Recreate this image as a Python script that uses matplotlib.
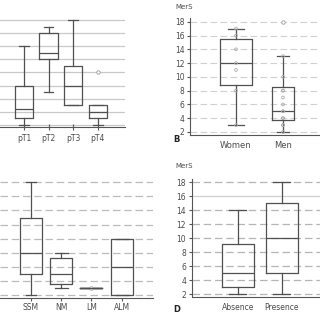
import matplotlib
matplotlib.use("Agg")
import matplotlib.pyplot as plt

# --- data (MerS) ---
a_labels = ["pT1", "pT2", "pT3", "pT4"]
a_whislo = [2, 7, 5, 2]
a_q1 = [3, 12, 5, 3]
a_med = [4.5, 13, 8, 4]
a_q3 = [8, 16, 11, 5]
a_whishi = [14, 17, 18, 5]
a_fliers = [[], [], [], [10]]

b_labels = ["Women", "Men"]
b_whislo = [3, 2]
b_q1 = [8.75, 3.75]
b_med = [12, 5]
b_q3 = [15.5, 8.5]
b_whishi = [17, 13]
b_fliers = [[], [18]]
b_points = [[17, 16, 14, 12, 11, 8, 3],
            [13, 10, 8, 8, 7, 6, 5, 5, 4, 4, 3, 3, 2]]

c_labels = ["SSM", "NM", "LM", "ALM"]
c_whislo = [2, 3, 3, 2]
c_q1 = [5, 3.5, 3, 2]
c_med = [8, 5, 3, 6]
c_q3 = [13, 7.25, 3, 10]
c_whishi = [18, 8, 3, 10]
c_fliers = [[], [], [3], []]

d_labels = ["Absence", "Presence"]
d_whislo = [2, 2]
d_q1 = [3, 5]
d_med = [5, 10]
d_q3 = [9.2, 15]
d_whishi = [14, 18]

yticks = list(range(2, 19, 2))
W = H = 320


def box_stats(labels, lo, q1, med, q3, hi, fliers=None):
    out = []
    for i, lab in enumerate(labels):
        out.append(dict(label=lab, whislo=lo[i], q1=q1[i], med=med[i], q3=q3[i],
                        whishi=hi[i], fliers=fliers[i] if fliers else []))
    return out


def px_axes(x0, y0, x1, y1):
    return fig.add_axes([x0 / W, 1 - y1 / H, (x1 - x0) / W, (y1 - y0) / H])


def draw_box(ax, stats, widths, capw, col="#505050"):
    ax.bxp(stats, positions=range(1, len(stats) + 1), widths=widths,
           capwidths=capw, showfliers=True,
           boxprops=dict(color=col, linewidth=0.9),
           medianprops=dict(color=col, linewidth=0.9),
           whiskerprops=dict(color=col, linewidth=0.9),
           capprops=dict(color=col, linewidth=0.9),
           flierprops=dict(marker="o", markersize=2.5, markerfacecolor="white",
                           markeredgecolor="#999999", markeredgewidth=0.6))


fig = plt.figure(figsize=(3.2, 3.2), dpi=100)
fig.patch.set_facecolor("white")
plt.rcParams["font.family"] = ["DejaVu Sans"]
tcol = "#4a4a4a"

# A (crop: y axis off canvas)
ax = px_axes(0, 16.7, 125, 126.7)
ax.set_ylim(1.74, 18.5)
ax.set_xlim(0.023, 5.11)
for y in yticks:
    ax.axhline(y, color="#c8c8c8", lw=0.9, zorder=0)
draw_box(ax, box_stats(a_labels, a_whislo, a_q1, a_med, a_q3, a_whishi, a_fliers),
         0.74, 0.4)
ax.set_yticks([])
for s in ["top", "left", "right"]:
    ax.spines[s].set_visible(False)
ax.spines["bottom"].set_color("#555555")
ax.set_xticks(range(1, 5))
ax.set_xticklabels(a_labels)
ax.tick_params(axis="x", direction="inout", length=4, pad=3, labelsize=5.5,
               colors="#555555", labelcolor=tcol)

# B
ax = px_axes(190, 18.3, 330, 135)
ax.set_ylim(1.56, 18.5)
ax.set_xlim(0.021, 3.0)
for y in yticks:
    ax.axhline(y, color="#d0d0d0", lw=0.8, ls=(0, (6, 3)), zorder=0)
draw_box(ax, box_stats(b_labels, b_whislo, b_q1, b_med, b_q3, b_whishi, b_fliers),
         [0.70, 0.47], [0.34, 0.26])
for i, pts in enumerate(b_points):
    ax.scatter([i + 1] * len(pts), pts, s=4, facecolor="none",
               edgecolor="#aaaaaa", linewidth=0.6, zorder=3)
ax.set_yticks(yticks)
ax.set_xticks([1, 2])
ax.set_xticklabels(b_labels)
for s in ["top", "right"]:
    ax.spines[s].set_visible(False)
for s in ["left", "bottom"]:
    ax.spines[s].set_color("#555555")
ax.tick_params(axis="both", length=2, pad=2, labelsize=5.5, colors="#555555",
               labelcolor=tcol)
ax.tick_params(axis="x", length=0, pad=4, labelsize=6)

# C (crop: y axis off canvas)
ax = px_axes(0, 178.8, 153, 297.7)
ax.set_ylim(1.62, 18.5)
ax.set_xlim(-0.027, 5.04)
for y in yticks:
    ax.axhline(y, color="#bbbbbb", lw=0.9, ls=(0, (6, 3)), zorder=0)
draw_box(ax, box_stats(c_labels, c_whislo, c_q1, c_med, c_q3, c_whishi, c_fliers),
         0.73, [0.33, 0.43, 0.73, 0.4])
ax.set_yticks([])
for s in ["top", "left", "right"]:
    ax.spines[s].set_visible(False)
ax.spines["bottom"].set_color("#555555")
ax.set_xticks(range(1, 5))
ax.set_xticklabels(c_labels)
ax.tick_params(axis="x", length=2, pad=2, labelsize=5.5, colors="#555555",
               labelcolor=tcol)

# D
ax = px_axes(191.7, 178.8, 330, 297.3)
ax.set_ylim(1.56, 18.5)
ax.set_xlim(-0.045, 3.1)
for y in yticks:
    if y == 16:
        ax.axhline(y, color="#d0d0d0", lw=0.9, zorder=0)
    else:
        ax.axhline(y, color="#b5b5b5", lw=0.9, ls=(0, (6, 3)), zorder=0)
draw_box(ax, box_stats(d_labels, d_whislo, d_q1, d_med, d_q3, d_whishi),
         0.73, 0.38)
ax.set_yticks(yticks)
ax.set_xticks([1, 2])
ax.set_xticklabels(d_labels)
for s in ["top", "right"]:
    ax.spines[s].set_visible(False)
for s in ["left", "bottom"]:
    ax.spines[s].set_color("#555555")
ax.tick_params(axis="both", length=2, pad=2, labelsize=5.5, colors="#555555",
               labelcolor=tcol)
ax.tick_params(axis="x", length=0, pad=4)

# panel titles / letters
fig.text(175 / W, 1 - 7 / H, "MerS", fontsize=5, color=tcol, va="center")
fig.text(173 / W, 1 - 140 / H, "B", fontsize=6, color="#222222", va="center",
         weight="bold")
fig.text(175 / W, 1 - 166 / H, "MerS", fontsize=5, color=tcol, va="center")
fig.text(173 / W, 1 - 310 / H, "D", fontsize=6, color="#222222", va="center",
         weight="bold")

fig.savefig("out.png", dpi=100)
